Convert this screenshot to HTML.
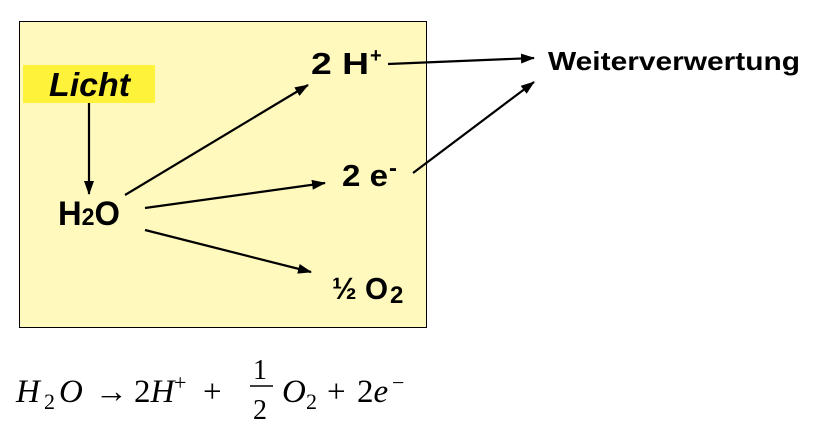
<!DOCTYPE html>
<html><head><meta charset="utf-8"><style>
html,body{margin:0;padding:0;background:#fff;width:824px;height:442px;overflow:hidden}
</style></head><body>
<svg width="824" height="442" viewBox="0 0 824 442" xmlns="http://www.w3.org/2000/svg">
<defs><marker id="a" markerWidth="14" markerHeight="10" refX="13" refY="5" orient="auto" markerUnits="userSpaceOnUse"><path d="M0,0 L14,5 L0,10 z" fill="#000"/></marker></defs>
<rect x="19.5" y="21.5" width="407" height="306" fill="#fff9bd" stroke="#000" stroke-width="1"/>
<rect x="23" y="65" width="132" height="38" fill="#fff23a"/>
<g font-family="Liberation Sans, sans-serif" font-weight="bold" fill="#000">
<text x="49" y="96" font-size="33" font-style="italic" textLength="81" lengthAdjust="spacingAndGlyphs">Licht</text>
<text x="58" y="225" font-size="34" textLength="62" lengthAdjust="spacingAndGlyphs">H<tspan font-size="24">2</tspan>O</text>
<text x="311" y="74" font-size="31" textLength="58" lengthAdjust="spacingAndGlyphs">2 H</text>
<text x="370" y="62" font-size="20">+</text>
<text x="342" y="186" font-size="31" textLength="46" lengthAdjust="spacingAndGlyphs">2 e</text>
<text x="389" y="176" font-size="24">-</text>
<text x="332" y="299" font-size="31" textLength="56" lengthAdjust="spacingAndGlyphs">½ O</text>
<text x="390" y="303" font-size="24">2</text>
<text x="548" y="70" font-size="26" textLength="252" lengthAdjust="spacingAndGlyphs">Weiterverwertung</text>
</g>
<g stroke="#000" stroke-width="2.2" fill="none" marker-end="url(#a)">
<line x1="89" y1="103" x2="89" y2="194"/>
<line x1="125" y1="195" x2="308" y2="85"/>
<line x1="145" y1="208" x2="325" y2="183"/>
<line x1="145" y1="230" x2="311" y2="272"/>
<line x1="388" y1="64" x2="534" y2="58"/>
<line x1="413" y1="173" x2="534" y2="82"/>
</g>
<g font-family="Liberation Serif, serif" font-size="33" fill="#000">
<text x="16" y="402" font-style="italic">H</text>
<text x="44" y="409" font-size="22">2</text>
<text x="59" y="402" font-style="italic">O</text>
<text x="95" y="402">→</text>
<text x="134" y="402">2<tspan font-style="italic">H</tspan></text>
<text x="174" y="390" font-size="22">+</text>
<text x="203" y="402">+</text>
<text x="253" y="379" font-size="28">1</text>
<line x1="250" y1="386" x2="273" y2="386" stroke="#000" stroke-width="1.5"/>
<text x="253" y="419" font-size="28">2</text>
<text x="282" y="402" font-style="italic">O</text>
<text x="306" y="409" font-size="22">2</text>
<text x="327" y="402">+</text>
<text x="357" y="402">2<tspan font-style="italic">e</tspan></text>
<text x="392" y="390" font-size="22">−</text>
</g>
</svg>
</body></html>
